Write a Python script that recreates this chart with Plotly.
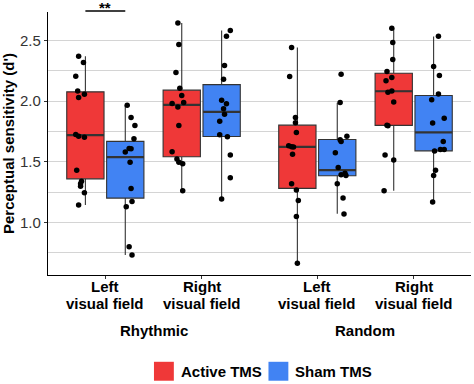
import plotly.graph_objects as go

# ---------------- data ----------------
conditions = ["Left<br>visual field", "Right<br>visual field",
              "Left<br>visual field", "Right<br>visual field"]
groups = ["Rhythmic", "Random"]
series_names = ["Active TMS", "Sham TMS"]

# box statistics: [Rhythmic-Left, Rhythmic-Right, Random-Left, Random-Right]
active_q1 = [1.359, 1.541, 1.280, 1.800]
active_median = [1.720, 1.970, 1.623, 2.082]
active_q3 = [2.077, 2.091, 1.802, 2.231]
active_low = [1.143, 1.261, 0.662, 1.261]
active_high = [2.371, 2.646, 2.443, 2.602]

sham_q1 = [1.200, 1.709, 1.384, 1.590]
sham_median = [1.538, 1.912, 1.431, 1.742]
sham_q3 = [1.668, 2.137, 1.684, 2.047]
sham_low = [0.730, 1.192, 1.070, 1.167]
sham_high = [1.967, 2.583, 1.988, 2.533]

# individual participants
active_points = [
    [2.371, 2.319, 2.206, 2.085, 2.030, 2.058, 1.725, 1.711, 1.703, 1.429, 1.340, 1.318, 1.297, 1.244, 1.143],
    [2.646, 2.467, 2.237, 2.107, 2.047, 1.981, 1.989, 1.953, 1.800, 1.582, 1.522, 1.497, 1.483, 1.261],
    [2.443, 2.204, 1.866, 1.821, 1.742, 1.632, 1.623, 1.621, 1.563, 1.318, 1.266, 1.181, 1.049, 0.662],
    [2.602, 2.484, 2.344, 2.245, 2.195, 2.168, 2.085, 2.074, 1.994, 1.802, 1.797, 1.555, 1.514, 1.261],
]
active_jitter = [
    [-0.07, -0.02, -0.10, -0.08, -0.07, -0.01, -0.10, -0.07, -0.01, -0.09, -0.04, -0.05, -0.05, -0.01, -0.07],
    [-0.04, -0.03, -0.06, -0.02, 0.00, -0.10, 0.02, -0.04, -0.03, -0.10, -0.05, -0.03, 0.01, 0.01],
    [-0.06, -0.08, -0.02, -0.02, -0.01, -0.09, -0.06, -0.04, -0.05, -0.06, -0.01, 0.01, -0.01, 0.00],
    [-0.02, -0.01, -0.01, -0.07, -0.02, -0.08, -0.02, -0.06, 0.00, -0.07, -0.06, -0.09, 0.00, -0.10],
]
sham_points = [
    [1.967, 1.866, 1.800, 1.689, 1.610, 1.607, 1.580, 1.497, 1.280, 1.173, 1.129, 0.799, 0.730],
    [2.583, 2.536, 2.294, 2.181, 2.008, 1.978, 1.937, 1.893, 1.835, 1.722, 1.706, 1.555, 1.368, 1.192],
    [2.223, 1.989, 1.711, 1.681, 1.668, 1.574, 1.453, 1.406, 1.393, 1.387, 1.318, 1.200, 1.068],
    [2.536, 2.286, 2.212, 2.060, 2.011, 1.819, 1.860, 1.668, 1.588, 1.602, 1.602, 1.429, 1.387, 1.167],
]
sham_jitter = [
    [0.02, 0.06, 0.10, 0.09, 0.04, 0.06, 0.00, 0.05, 0.06, 0.07, 0.01, 0.04, 0.07],
    [0.09, 0.05, 0.03, 0.02, 0.00, 0.05, 0.02, 0.03, -0.02, -0.02, 0.06, 0.09, 0.09, 0.00],
    [0.04, 0.03, 0.10, 0.03, 0.04, -0.02, 0.01, 0.08, 0.04, 0.09, 0.00, 0.06, 0.07],
    [0.05, 0.00, 0.06, 0.05, -0.02, -0.01, 0.11, 0.10, 0.01, 0.07, 0.11, 0.02, 0.00, -0.01],
]
significance_label = "**"
y_tick_values = [1.0, 1.5, 2.0, 2.5]
y_tick_labels = ["1.0", "1.5", "2.0", "2.5"]

# ---------------- layout constants ----------------
cat_pos = [1.0, 2.0, 3.2, 4.2]
group_pos = [1.5, 3.7]
dodge = 0.207
box_w = 0.387
RED = "#EF3838"
BLUE = "#4183F3"
LINE = "#333333"
FONT = "Liberation Sans, Arial, sans-serif"
PLOT_H = 263.0  # plot area height in px, used to place text below the axis


def below(px):
    """paper y for a distance (px) below the bottom axis line"""
    return -px / PLOT_H


fig = go.Figure()

series = [
    (series_names[0], RED, -dodge, active_q1, active_median, active_q3, active_low, active_high,
     active_points, active_jitter),
    (series_names[1], BLUE, dodge, sham_q1, sham_median, sham_q3, sham_low, sham_high,
     sham_points, sham_jitter),
]

for name, color, off, q1, med, q3, lo, hi, pts, jit in series:
    xs = [p + off for p in cat_pos]
    fig.add_trace(go.Box(
        x=xs, q1=q1, median=med, q3=q3, lowerfence=lo, upperfence=hi,
        width=box_w, fillcolor=color, line=dict(color=LINE, width=1.1),
        whiskerwidth=0, boxpoints=False, name=name, showlegend=False,
        hoverinfo="skip",
    ))
    # thicker median line (as in ggplot)
    mx, my = [], []
    for x, m in zip(xs, med):
        mx += [x - box_w / 2, x + box_w / 2, None]
        my += [m, m, None]
    fig.add_trace(go.Scatter(x=mx, y=my, mode="lines",
                             line=dict(color=LINE, width=2.2),
                             showlegend=False, hoverinfo="skip"))
    # jittered points
    px, py = [], []
    for x, p, j in zip(xs, pts, jit):
        px += [x + d for d in j]
        py += p
    fig.add_trace(go.Scatter(x=px, y=py, mode="markers",
                             marker=dict(color="black", size=5.5),
                             showlegend=False, hoverinfo="skip"))

# significance bracket
fig.add_shape(type="line", xref="x", yref="paper",
              x0=cat_pos[0] - dodge, x1=cat_pos[0] + dodge, y0=1.004, y1=1.004,
              line=dict(color="black", width=1.4))
fig.add_annotation(x=cat_pos[0], xref="x", y=1.017, yref="paper",
                   yanchor="middle", text="<b>%s</b>" % significance_label,
                   showarrow=False, font=dict(family=FONT, size=15, color="black"))

# category labels (two lines each, tight line spacing as in the reference)
for c, cx in zip(conditions, cat_pos):
    lines = c.split("<br>")
    for k, ln in enumerate(lines):
        fig.add_annotation(x=cx, xref="x", y=below(11.7 + 16.6 * k), yref="paper",
                           yanchor="middle", text="<b>%s</b>" % ln, showarrow=False,
                           font=dict(family=FONT, size=15, color="black"))

# group labels
for g, gx in zip(groups, group_pos):
    fig.add_annotation(x=gx, xref="x", y=below(55.7), yref="paper", yanchor="middle",
                       text="<b>%s</b>" % g, showarrow=False,
                       font=dict(family=FONT, size=15, color="black"))

# manual legend
legend_items = [(series_names[0], RED, 0.2505), (series_names[1], BLUE, 0.5212)]
for name, color, lx in legend_items:
    fig.add_shape(type="rect", xref="paper", yref="paper",
                  x0=lx, x1=lx + 0.047, y0=-0.402, y1=-0.33,
                  fillcolor=color, line=dict(width=0))
    fig.add_annotation(x=lx + 0.059, xref="paper", y=-0.366, yref="paper",
                       xanchor="left", yanchor="middle", text="<b>%s</b>" % name,
                       showarrow=False, font=dict(family=FONT, size=15, color="black"))

fig.update_layout(
    width=474, height=384,
    margin=dict(l=48, r=3, t=12, b=109),
    paper_bgcolor="white", plot_bgcolor="white",
    boxmode="overlay", showlegend=False,
    font=dict(family=FONT),
    xaxis=dict(
        range=[0.405, 4.795], tickvals=cat_pos, showticklabels=False,
        showgrid=False, zeroline=False, showline=True, linecolor="black", linewidth=1.2,
        ticks="outside", ticklen=3, tickcolor="#333333", tickwidth=1,
    ),
    yaxis=dict(
        range=[0.5655, 2.736], tickvals=y_tick_values, ticktext=y_tick_labels,
        tickfont=dict(family=FONT, size=15, color="#333333"),
        showgrid=True, gridcolor="#d4d4d4", gridwidth=1.1,
        minor=dict(dtick=0.25, tick0=0.25, showgrid=True, gridcolor="#d4d4d4", gridwidth=1.1, ticks=""),
        zeroline=False, showline=True, linecolor="black", linewidth=1.2,
        ticks="outside", ticklen=3, tickcolor="#333333", tickwidth=1,
        title=dict(text="<b>Perceptual sensitivity (d')</b>",
                   font=dict(family=FONT, size=15, color="black"), standoff=6),
    ),
)

fig.write_html("out.html")
